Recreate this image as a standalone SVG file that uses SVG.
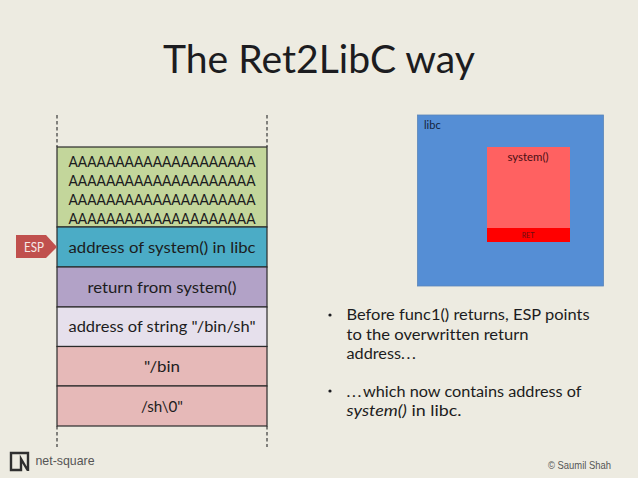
<svg xmlns="http://www.w3.org/2000/svg" width="638" height="478" viewBox="0 0 638 478">
<style>
text{font-family:Lato,"Open Sans","DejaVu Sans",sans-serif;fill:#1c1c20;font-variant-ligatures:none}
.cell{stroke:#2b2b2b;stroke-width:1.2}
.lbl{font-size:15.500px;text-anchor:middle}
.body{font-size:15.500px}
.dash{stroke:#3a3a3a;stroke-width:1.2;stroke-dasharray:3.500 2.500;fill:none}
.dots{letter-spacing:1.600px}
</style>
<rect width="638" height="478" fill="#edebe1"/>
<text x="319" y="73" style="font-size:38px;text-anchor:middle" textLength="312" lengthAdjust="spacingAndGlyphs">The Ret2LibC way</text>
<g id="connectors">
<path class="dash" d="M57 115V147M267 115V147M57 426V447M267 426V447"/>
</g>
<g id="stack-overflow">
<rect class="cell" x="57" y="147" width="210" height="80" fill="#c3d69b"/>
<text class="lbl" x="162" y="167" textLength="187" lengthAdjust="spacingAndGlyphs">AAAAAAAAAAAAAAAAAAAA</text>
<text class="lbl" x="162" y="186" textLength="187" lengthAdjust="spacingAndGlyphs">AAAAAAAAAAAAAAAAAAAA</text>
<text class="lbl" x="162" y="205" textLength="187" lengthAdjust="spacingAndGlyphs">AAAAAAAAAAAAAAAAAAAA</text>
<text class="lbl" x="162" y="224" textLength="187" lengthAdjust="spacingAndGlyphs">AAAAAAAAAAAAAAAAAAAA</text>
</g>
<g id="stack-address">
<rect class="cell" x="57" y="227" width="210" height="40" fill="#4bacc6"/>
<text class="lbl" x="162" y="253" textLength="187" lengthAdjust="spacingAndGlyphs">address of system() in libc</text>
</g>
<g id="stack-return">
<rect class="cell" x="57" y="267" width="210" height="40" fill="#b2a2c7"/>
<text class="lbl" x="162" y="293" textLength="149" lengthAdjust="spacingAndGlyphs">return from system()</text>
</g>
<g id="stack-string">
<rect class="cell" x="57" y="307" width="210" height="39.500" fill="#e6e0ec"/>
<text class="lbl" x="162" y="332" textLength="187" lengthAdjust="spacingAndGlyphs">address of string "/bin/sh"</text>
</g>
<g id="stack-bin">
<rect class="cell" x="57" y="346.500" width="210" height="39.500" fill="#e6b9b8"/>
<text class="lbl" x="162" y="372" textLength="36" lengthAdjust="spacingAndGlyphs">"/bin</text>
</g>
<g id="stack-sh">
<rect class="cell" x="57" y="386" width="210" height="40" fill="#e6b9b8"/>
<text class="lbl" x="162" y="412" textLength="42" lengthAdjust="spacingAndGlyphs">/sh\0"</text>
</g>
<g id="esp">
<polygon points="16,235 46,235 57,247 46,258 16,258" fill="#c0504d"/>
<text x="34" y="252" style="font-size:12.500px;text-anchor:middle;fill:#f6e9e6" textLength="20" lengthAdjust="spacingAndGlyphs">ESP</text>
</g>
<g id="libc">
<rect x="417.500" y="115" width="186" height="171" fill="#558ed5" stroke="#5b86b8" stroke-width=".8"/>
<text x="424" y="129" style="font-size:11px;fill:#14233c">libc</text>
</g>
<g id="system">
<rect x="487" y="147" width="83" height="81" fill="#ff6161"/>
<text x="528" y="161" style="font-size:11px;text-anchor:middle;fill:#4a0f14" textLength="41" lengthAdjust="spacingAndGlyphs">system()</text>
</g>
<g id="ret">
<rect x="487" y="228" width="83" height="14" fill="#ff0000"/>
<text x="528" y="238" style="font-size:7px;text-anchor:middle;fill:#6a0f12">RET</text>
</g>
<g id="notes">
<circle cx="330" cy="315" r="1.600" fill="#1c1c20"/>
<text class="body" x="346.500" y="320" textLength="243" lengthAdjust="spacingAndGlyphs">Before func1() returns, ESP points</text>
<text class="body" x="346.500" y="340" textLength="182" lengthAdjust="spacingAndGlyphs">to the overwritten return</text>
<text class="body" x="346.500" y="359" textLength="71" lengthAdjust="spacingAndGlyphs">address<tspan class="dots">...</tspan></text>
<circle cx="330" cy="391" r="1.600" fill="#1c1c20"/>
<text class="body" x="346.500" y="397" textLength="235" lengthAdjust="spacingAndGlyphs"><tspan class="dots">...</tspan>which now contains address of</text>
<text class="body" x="346.500" y="416" textLength="115" lengthAdjust="spacingAndGlyphs"><tspan font-style="italic">system()</tspan> in libc.</text>
</g>
<g id="logo">
<path d="M28 471V453H11V470H21V459L27.500 470" fill="none" stroke="#2f2f2f" stroke-width="2.400"/>
<text x="35.500" y="465" style="font-family:'Liberation Sans',sans-serif;font-size:13px;fill:#555" textLength="59" lengthAdjust="spacingAndGlyphs">net-square</text>
</g>
<g id="credit">
<text x="548" y="469" style="font-family:'Liberation Sans',sans-serif;font-size:10.500px;fill:#555" textLength="63" lengthAdjust="spacingAndGlyphs">© Saumil Shah</text>
</g>
</svg>
